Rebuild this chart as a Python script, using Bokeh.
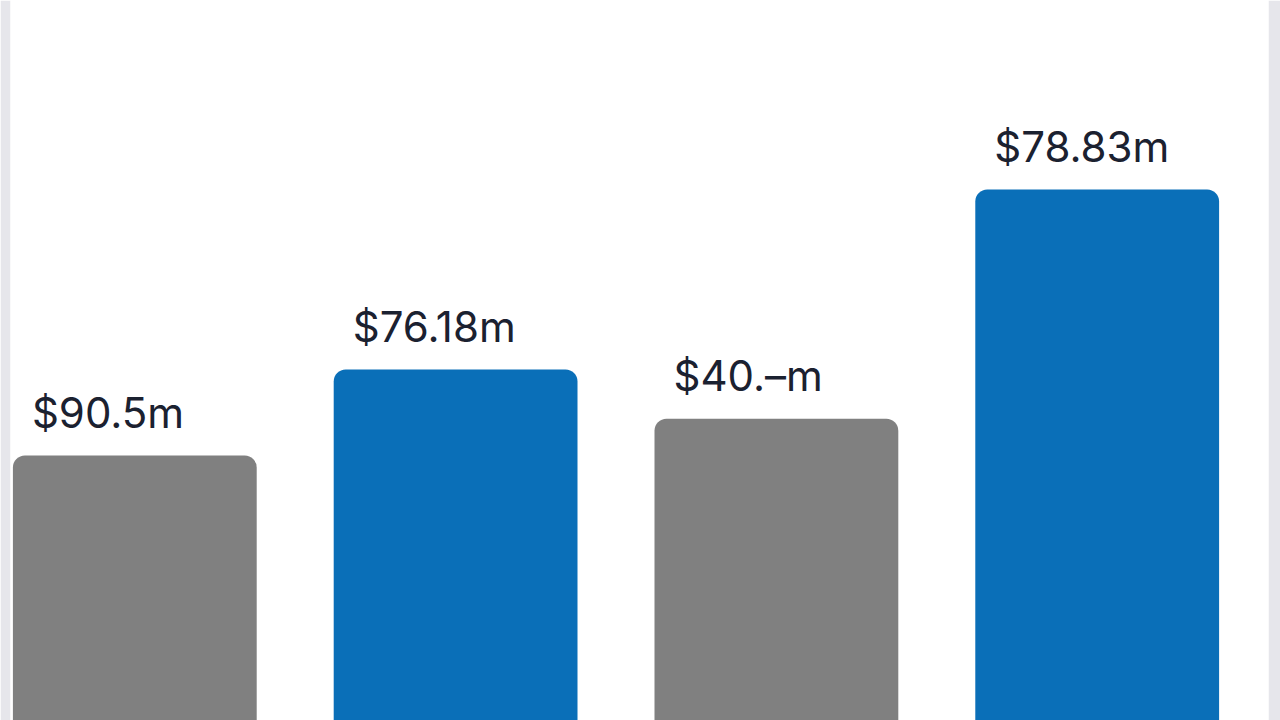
from bokeh.plotting import figure
from bokeh.models import ColumnDataSource, Range1d
from bokeh.core.properties import value
from bokeh.embed import file_html
from bokeh.resources import INLINE

# ---- data ----
positions = [0, 1, 2, 3]
bar_values = [36.8, 48.75, 41.9, 73.75]
labels = ["$90.5m", "$76.18m", "$40.\u2013m", "$78.83m"]
colors = ["#808080", "#0a6fb8", "#808080", "#0a6fb8"]

BAR_W = 0.76
src = ColumnDataSource(dict(
    x=positions,
    top=bar_values,
    left=[v - BAR_W / 2 for v in positions],
    label=labels,
    color=colors,
))

p = figure(width=1280, height=720, output_backend="svg", toolbar_location=None,
           x_range=Range1d(-0.3875, 3.534), y_range=Range1d(0, 100),
           min_border=0, min_border_left=10, min_border_right=12,
           min_border_top=0, min_border_bottom=0)
p.axis.visible = False
p.grid.visible = False
p.outline_line_color = None
p.background_fill_color = "white"
p.border_fill_color = "#e6e6eb"

p.vbar(x="x", top="top", bottom=-20, width=BAR_W, source=src,
       fill_color="color", line_color=None, border_radius=(12, 12, 0, 0))

p.text(x="left", y="top", text="label", source=src,
       x_offset=19, y_offset=-43,
       text_font=value("Inter"), text_font_size="42px",
       text_color="#1b2130", text_align="left", text_baseline="alphabetic")

open("out.html", "w").write(file_html(p, INLINE))
